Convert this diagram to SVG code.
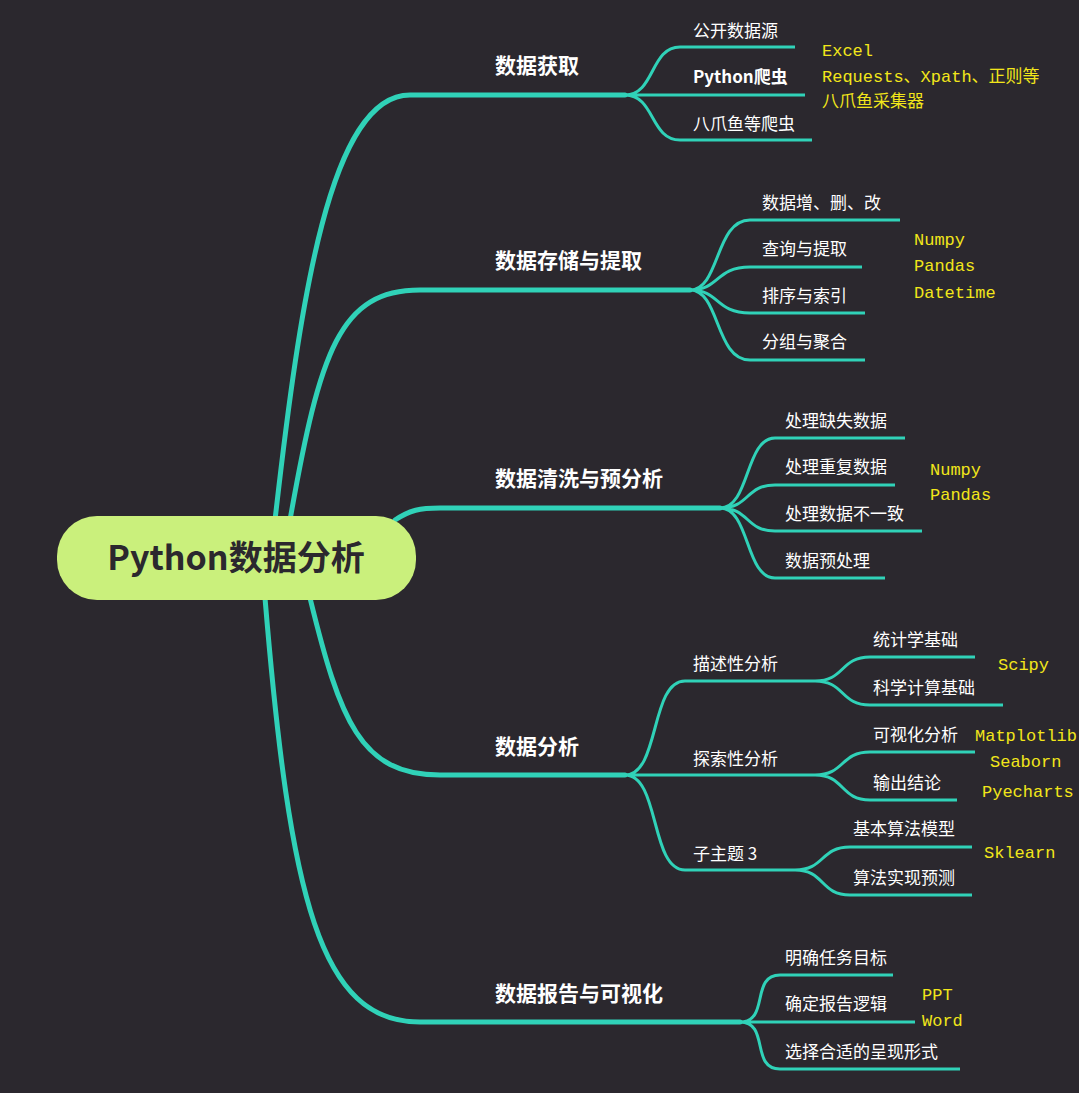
<svg xmlns="http://www.w3.org/2000/svg" width="1079" height="1093" viewBox="0 0 1079 1093">
<style>
.m{fill:none;stroke:#30d2b8;stroke-width:5;stroke-linecap:round}
.s{fill:none;stroke:#30d2b8;stroke-width:3}
.t1{font-family:"Noto Sans CJK SC",sans-serif;font-weight:bold;font-size:21px;fill:#fff}
.t2{font-family:"Noto Sans CJK SC",sans-serif;font-size:17px;fill:#fff}
.y{font-family:"Liberation Mono","Noto Sans CJK SC",monospace;font-size:17px;fill:#f2e61a}
</style>
<rect width="1079" height="1093" fill="#2b282e"/>
<g id="connectors">
<path class="m" d="M275,520 C300,300 330,95 410,95 H625"/>
<path class="m" d="M290,520 C320,350 340,290 420,290 H690"/>
<path class="m" d="M395,520 C410,510 420,508 440,508 H720"/>
<path class="m" d="M310,598 C340,720 360,775 440,775 H625"/>
<path class="m" d="M265,598 C290,900 320,1022 420,1022 H740"/>
<path class="s" d="M625,95 C655,95 650,47 680,47 H795 M625,95 H805 M625,95 C655,95 650,140 680,140 H812"/>
<path class="s" d="M690,290 C720,290 715,220 750,220 H900 M690,290 C720,290 715,267 750,267 H862 M690,290 C720,290 715,313 750,313 H865 M690,290 C720,290 715,360 750,360 H865"/>
<path class="s" d="M720,508 C750,508 745,438 775,438 H905 M720,508 C750,508 745,485 775,485 H895 M720,508 C750,508 745,531 775,531 H922 M720,508 C750,508 745,578 775,578 H885"/>
<path class="s" d="M625,775 C660,775 650,681 685,681 H815 M625,775 H815 M625,775 C660,775 650,870 685,870 H795"/>
<path class="s" d="M815,681 C845,681 840,657 870,657 H975 M815,681 C845,681 840,705 870,705 H1003"/>
<path class="s" d="M815,775 C845,775 840,752 870,752 H975 M815,775 C845,775 840,800 870,800 H957"/>
<path class="s" d="M795,870 C825,870 820,847 850,847 H972 M795,870 C825,870 820,895 850,895 H972"/>
<path class="s" d="M740,1022 C770,1022 750,975 780,975 H893 M740,1022 H915 M740,1022 C770,1022 750,1069 780,1069 H960"/>
</g>
<g id="root">
<rect x="57" y="516" width="359" height="84" rx="40" fill="#caf07c"/>
<text x="236" y="570" text-anchor="middle" font-family="'Noto Sans CJK SC',sans-serif" font-weight="bold" font-size="34" fill="#2b282e">Python数据分析</text>
</g>
<g id="b1"><text class="t1" x="495" y="73">数据获取</text>
<text class="t2" x="693" y="37">公开数据源</text><text class="t2" x="693" y="83" font-weight="bold">Python爬虫</text><text class="t2" x="693" y="130">八爪鱼等爬虫</text>
<text class="y" x="822" y="56">Excel</text><text class="y" x="822" y="82">Requests、Xpath、正则等</text><text class="y" x="822" y="107">八爪鱼采集器</text></g>
<g id="b2"><text class="t1" x="495" y="268">数据存储与提取</text>
<text class="t2" x="762" y="209">数据增、删、改</text><text class="t2" x="762" y="255">查询与提取</text><text class="t2" x="762" y="302">排序与索引</text><text class="t2" x="762" y="348">分组与聚合</text>
<text class="y" x="914" y="245">Numpy</text><text class="y" x="914" y="271">Pandas</text><text class="y" x="914" y="298">Datetime</text></g>
<g id="b3"><text class="t1" x="495" y="486">数据清洗与预分析</text>
<text class="t2" x="785" y="427">处理缺失数据</text><text class="t2" x="785" y="473">处理重复数据</text><text class="t2" x="785" y="520">处理数据不一致</text><text class="t2" x="785" y="567">数据预处理</text>
<text class="y" x="930" y="475">Numpy</text><text class="y" x="930" y="500">Pandas</text></g>
<g id="b4"><text class="t1" x="495" y="754">数据分析</text>
<text class="t2" x="693" y="670">描述性分析</text><text class="t2" x="693" y="765">探索性分析</text><text class="t2" x="693" y="860">子主题 3</text>
<text class="t2" x="873" y="646">统计学基础</text><text class="t2" x="873" y="694">科学计算基础</text>
<text class="t2" x="873" y="741">可视化分析</text><text class="t2" x="873" y="789">输出结论</text>
<text class="t2" x="853" y="835">基本算法模型</text><text class="t2" x="853" y="884">算法实现预测</text>
<text class="y" x="998" y="670">Scipy</text><text class="y" x="975" y="741">Matplotlib</text><text class="y" x="990" y="767">Seaborn</text><text class="y" x="982" y="797">Pyecharts</text><text class="y" x="984" y="858">Sklearn</text></g>
<g id="b5"><text class="t1" x="495" y="1001">数据报告与可视化</text>
<text class="t2" x="785" y="964">明确任务目标</text><text class="t2" x="785" y="1010">确定报告逻辑</text><text class="t2" x="785" y="1058">选择合适的呈现形式</text>
<text class="y" x="922" y="1000">PPT</text><text class="y" x="922" y="1026">Word</text></g>
</svg>
